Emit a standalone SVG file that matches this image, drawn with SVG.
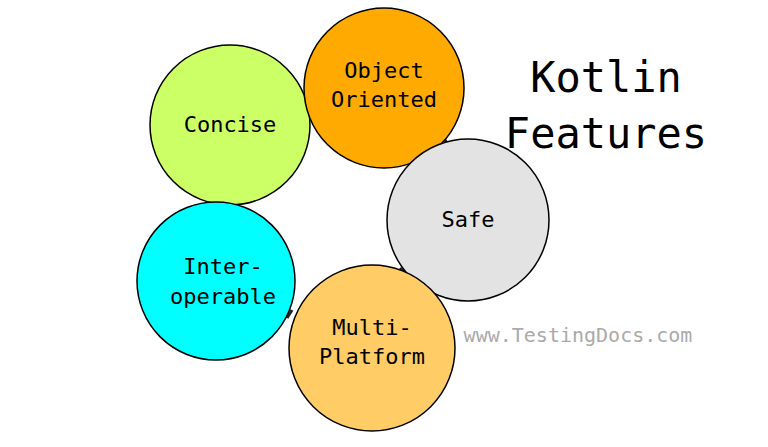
<svg xmlns="http://www.w3.org/2000/svg" width="768" height="447" viewBox="0 0 768 447">
<style>
circle{stroke:#000;stroke-width:1.5}
text{font-family:"DejaVu Sans Mono","Liberation Mono",monospace;text-anchor:middle;fill:#000}
.n{font-size:22px}
</style>
<rect width="768" height="447" fill="#fff"/>
<g id="connectors" stroke="#222" stroke-width="3">
<line x1="445" y1="140" x2="450" y2="148"/>
<line x1="400" y1="268" x2="408" y2="276"/>
<line x1="287" y1="318" x2="292" y2="310"/>
<line x1="208" y1="202" x2="220" y2="202"/>
</g>
<g id="concise"><circle cx="230" cy="125" r="80" fill="#ccff66"/><text class="n" x="230" y="132">Concise</text></g>
<g id="object-oriented"><circle cx="384" cy="88" r="80" fill="#ffaa00"/><text class="n" x="384" y="78">Object</text><text class="n" x="384" y="107">Oriented</text></g>
<g id="safe"><circle cx="468" cy="220" r="81" fill="#e3e3e3"/><text class="n" x="468" y="227">Safe</text></g>
<g id="multi-platform"><circle cx="372" cy="348" r="83" fill="#ffcc66"/><text class="n" x="372" y="335">Multi-</text><text class="n" x="372" y="364">Platform</text></g>
<g id="interoperable"><circle cx="216" cy="281" r="79" fill="#00ffff"/><text class="n" x="223" y="274">Inter-</text><text class="n" x="223" y="304">operable</text></g>
<text x="606" y="92" font-size="42">Kotlin</text>
<text x="606" y="148" font-size="42">Features</text>
<text x="578" y="342" font-size="20" style="fill:#aaa">www.TestingDocs.com</text>
</svg>
